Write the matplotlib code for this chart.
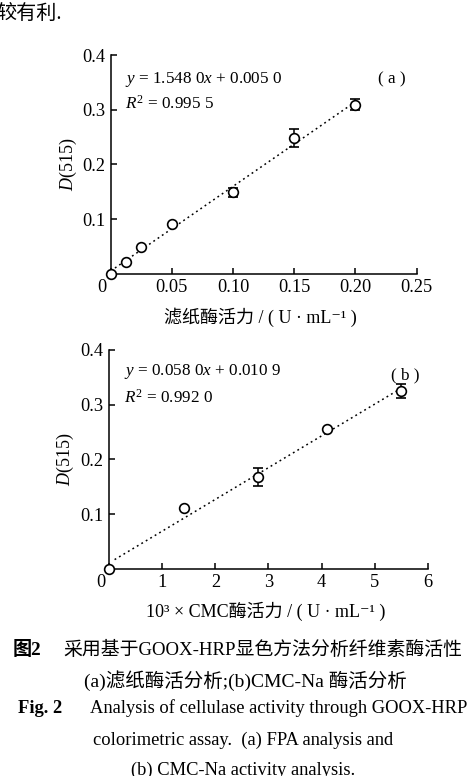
import numpy as np
import matplotlib
matplotlib.use("Agg")
import matplotlib.pyplot as plt
from matplotlib.transforms import ScaledTranslation

SERIF = ["Liberation Serif", "Noto Sans CJK SC", "DejaVu Serif"]
plt.rcParams["font.family"] = SERIF
plt.rcParams["mathtext.fontset"] = "custom"
plt.rcParams["mathtext.rm"] = "Liberation Serif"
plt.rcParams["mathtext.it"] = "Liberation Serif:italic"

# panel (a): filter paper activity
fpa_x = [0, 0.0125, 0.025, 0.05, 0.10, 0.15, 0.20]
fpa_y = [0, 0.021, 0.048, 0.090, 0.149, 0.248, 0.309]
fpa_err = [0, 0, 0, 0, 0.008, 0.016, 0.010]
fpa_fit = (1.548, 0.005)
fpa_fit_range = [0, 0.20]

# panel (b): CMC activity
cmc_x = [0, 1.4, 2.8, 4.1, 5.5]
cmc_y = [0, 0.111, 0.168, 0.256, 0.325]
cmc_err = [0, 0, 0.017, 0, 0.012]
cmc_fit = (0.058, 0.0109)
cmc_fit_range = [0.1, 5.5]

fig = plt.figure(figsize=(4.74, 7.76), dpi=100)


def draw_panel(ax, x, y, err, fit, fit_range, xlim, xticks, xticklabels,
               eq, r2, tag, tag_x, ys, xlabel):
    fx = np.array(fit_range)
    ax.plot(fx, fit[0] * fx + fit[1], linestyle=(0, (1.2, 2.2)),
            color="black", linewidth=1.1)
    ax.errorbar(x, y, yerr=err, fmt="o", mfc="white", mec="black",
                ecolor="black", ms=7, mew=1.2, elinewidth=1.1,
                capsize=3.5, capthick=1.1, clip_on=False, zorder=3)
    ax.set_xlim(*xlim)
    ax.set_ylim(0, 0.4)
    ax.set_xticks(xticks)
    ax.set_xticklabels(xticklabels)
    ax.set_yticks([0.1, 0.2, 0.3, 0.4])
    ax.set_yticklabels(["0.1", "0.2", "0.3", "0.4"])
    for s in ["top", "right"]:
        ax.spines[s].set_visible(False)
    for s in ["left", "bottom"]:
        ax.spines[s].set_linewidth(1.1)
    ax.tick_params(direction="in", length=4, width=1.1, labelsize=13.2,
                   pad=4)
    # shift the "0" label off the y axis
    lab0 = ax.get_xticklabels()[0]
    lab0.set_transform(lab0.get_transform()
                       + ScaledTranslation(-6 / 72, 0, fig.dpi_scale_trans))
    ax.set_ylabel("$D$(515)", fontsize=13, va="center")
    ax.yaxis.set_label_coords(-0.138, 0.5)
    ax.set_xlabel(xlabel, fontsize=13, va="center")
    ax.xaxis.set_label_coords(0.49, -0.197)
    ax.text(0.047, ys[0], eq, transform=ax.transAxes, fontsize=12.3,
            va="center", ha="left")
    ax.text(0.047, ys[1], r2, transform=ax.transAxes, fontsize=12.3,
            va="center", ha="left")
    ax.text(tag_x, ys[2], tag, transform=ax.transAxes, fontsize=12.3,
            va="center", ha="center")


ax1 = fig.add_axes([0.2335, 0.6473, 0.6456, 0.2818])
draw_panel(ax1, fpa_x, fpa_y, fpa_err, fpa_fit, fpa_fit_range,
           (0, 0.25), [0, 0.05, 0.10, 0.15, 0.20, 0.25],
           ["0", "0.05", "0.10", "0.15", "0.20", "0.25"],
           "$y$ = 1.548 0$x$ + 0.005 0", "$R^2$ = 0.995 5", "( a )", 0.92,
           (0.887, 0.776, 0.887),
           "滤纸酶活力 / ( U · mL⁻¹ )")

ax2 = fig.add_axes([0.2306, 0.2671, 0.6717, 0.2819])
draw_panel(ax2, cmc_x, cmc_y, cmc_err, cmc_fit, cmc_fit_range,
           (0, 6), [0, 1, 2, 3, 4, 5, 6],
           ["0", "1", "2", "3", "4", "5", "6"],
           "$y$ = 0.058 0$x$ + 0.010 9", "$R^2$ = 0.992 0", "( b )", 0.93,
           (0.902, 0.782, 0.886),
           "10³ × CMC酶活力 / ( U · mL⁻¹ )")

# running text above and caption below
fig.text(-0.008, 0.981, "较有利.", fontsize=14.5, va="center", ha="left")

cap = 13.3
fig.text(0.027, 0.1625, "图2", fontsize=cap + 0.5, fontweight="bold",
         va="center", ha="left")
fig.text(0.133, 0.1625, "采用基于GOOX-HRP显色方法分析纤维素酶活性",
         fontsize=cap + 0.3, va="center", ha="left")
fig.text(0.517, 0.1235, "(a)滤纸酶活分析;(b)CMC-Na 酶活分析",
         fontsize=cap + 0.7, va="center", ha="center")
fig.text(0.038, 0.0875, "Fig. 2", fontsize=cap, fontweight="bold",
         va="center", ha="left")
fig.text(0.19, 0.0875, "Analysis of cellulase activity through GOOX-HRP",
         fontsize=cap, va="center", ha="left")
fig.text(0.513, 0.0465, "colorimetric assay.  (a) FPA analysis and",
         fontsize=cap, va="center", ha="center")
fig.text(0.513, 0.0075, "(b) CMC-Na activity analysis.",
         fontsize=cap, va="center", ha="center")

fig.savefig("out.png", dpi=100)
